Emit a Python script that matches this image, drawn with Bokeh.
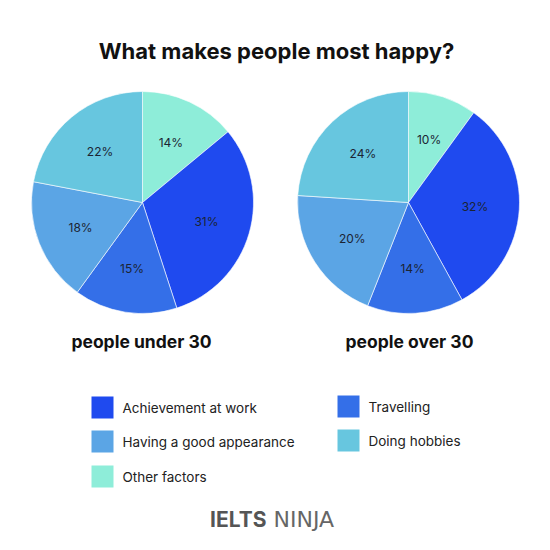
import math
from bokeh.plotting import figure
from bokeh.models import ColumnDataSource, Range1d
from bokeh.core.properties import value
from bokeh.embed import file_html
from bokeh.resources import INLINE

# ---- data ----
categories = ["Other factors", "Achievement at work", "Travelling",
              "Having a good appearance", "Doing hobbies"]
colors = ["#8eedd9", "#1f4aef", "#346fe8", "#5ba5e5", "#67c6df"]
under30 = [14, 31, 15, 18, 22]
over30 = [10, 32, 14, 20, 24]
legend_order = ["Achievement at work", "Travelling", "Having a good appearance",
                "Doing hobbies", "Other factors"]
title_text = "What makes people most happy?"
group_labels = ["people under 30", "people over 30"]

FONT = "Inter"
W = 534

def Y(yimg):
    return 550 - yimg

p = figure(width=W, height=W, output_backend="svg", toolbar_location=None,
           x_range=Range1d(0, 534), y_range=Range1d(16, 550), min_border=0)
p.axis.visible = False
p.grid.visible = False
p.outline_line_color = None
p.background_fill_color = "white"

def add_pie(vals, cx, cy, r):
    total = float(sum(vals))
    starts, ends, lx, ly, labels = [], [], [], [], []
    cum = 0.0
    for v in vals:
        a0 = math.pi / 2 - 2 * math.pi * cum / total
        a1 = math.pi / 2 - 2 * math.pi * (cum + v) / total
        mid = (a0 + a1) / 2
        starts.append(a0)
        ends.append(a1)
        lx.append(cx + 0.6 * r * math.cos(mid))
        ly.append(cy + 0.6 * r * math.sin(mid))
        labels.append(f"{v}%")
        cum += v
    src = ColumnDataSource(dict(start=starts, end=ends, color=colors))
    p.wedge(x=cx, y=cy, radius=r, start_angle="start", end_angle="end",
            direction="clock", fill_color="color", line_color="white",
            line_width=0.6, source=src)
    lsrc = ColumnDataSource(dict(x=lx, y=ly, t=labels))
    p.text(x="x", y="y", text="t", source=lsrc, text_align="center",
           text_baseline="middle", text_font=value(FONT),
           text_font_size="12px", text_color="#1b2433")

add_pie(under30, 142, Y(202), 111)
add_pie(over30, 408, Y(202), 111)

# title
p.text(x=[276], y=[Y(50)], text=[title_text], text_align="center",
       text_baseline="middle", text_font=value(FONT), text_font_style="bold",
       text_font_size="22px", text_color="#111111")

# group labels
p.text(x=[141, 409], y=[Y(341), Y(341)], text=group_labels, text_align="center",
       text_baseline="middle", text_font=value(FONT), text_font_style="bold",
       text_font_size="17.5px", text_color="#111111")

# legend
pos = {
    "Achievement at work": (102, 407),
    "Travelling": (348, 406),
    "Having a good appearance": (102, 441),
    "Doing hobbies": (348, 440),
    "Other factors": (102, 476),
}
lx, ly, lc, tx, ty, tt = [], [], [], [], [], []
for name in legend_order:
    x, y = pos[name]
    lx.append(x)
    ly.append(Y(y))
    lc.append(colors[categories.index(name)])
    tx.append(x + 20)
    ty.append(Y(y))
    tt.append(name)
p.rect(x=lx, y=ly, width=22, height=22, fill_color=lc, line_color=None)
p.text(x=tx, y=ty, text=tt, text_align="left", text_baseline="middle",
       text_font=value(FONT), text_font_size="13.5px", text_color="#222222")

# logo
p.text(x=[266], y=[Y(519)], text=["IELTS"], text_align="right",
       text_baseline="middle", text_font=value(FONT), text_font_style="bold",
       text_font_size="21px", text_color="#555555")
p.text(x=[273], y=[Y(519)], text=["NINJA"], text_align="left",
       text_baseline="middle", text_font=value("DejaVu Sans"),
       text_font_size="22px", text_color="#666666")

open("out.html", "w").write(file_html(p, INLINE))
